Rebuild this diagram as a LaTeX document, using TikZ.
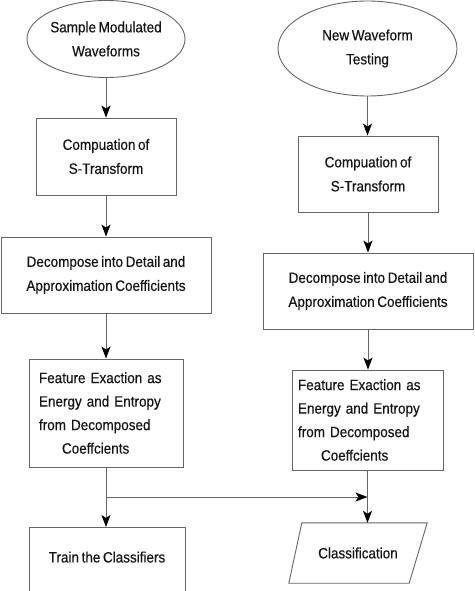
\documentclass[tikz,border=0pt]{standalone}
\usepackage{fontspec}
\setmainfont{Liberation Sans}[FakeStretch=0.9,FakeBold=0.4,WordSpace=0.7]
\usetikzlibrary{shapes.geometric,arrows.meta}
\definecolor{edge}{HTML}{656565}
\definecolor{ink}{HTML}{141414}
\begin{document}
\begin{tikzpicture}[x=1pt,y=-1pt,
  txt/.style={text=ink, font=\fontsize{15pt}{24pt}\selectfont},
  box/.style={txt, draw=edge, line width=0.9pt, inner sep=0pt, align=center},
  feat/.style={box, align=left, font=\fontsize{15pt}{23.5pt}\selectfont},
  oval/.style={txt, ellipse, draw=edge, line width=0.9pt, inner sep=0pt, align=center},
  para/.style={txt, inner sep=0pt},
  link/.style={draw=edge, line width=0.9pt},
  flow/.style={link, -{Stealth[length=12pt,width=9pt,inset=3pt,color=black]}}
]
\useasboundingbox (0,0) rectangle (474,591);

% left column
\node[oval, minimum width=158pt, minimum height=77pt] (le) at (106,39) {Sample Modulated\\Waveforms};
\node[box, minimum width=140pt, minimum height=77pt] (l1) at (106,156.5) {Compuation of\\S-Transform};
\node[box, minimum width=210pt, minimum height=76pt] (l2) at (106,275) {Decompose into Detail and\\Approximation Coefficients};
\node[feat, minimum width=154pt, minimum height=108pt, text width=134pt] (l3) at (106,413) {Feature Exaction as\\Energy and Entropy\\from Decomposed\\\hspace*{23pt}Coeffcients};
\node[box, anchor=north, minimum width=156pt, text height=35pt, text depth=45pt] (tr) at (107,527) {Train the Classifiers};

% right column
\node[oval, minimum width=179pt, minimum height=95pt] (re) at (367.5,48.5) {New Waveform\\Testing};
\node[box, minimum width=140pt, minimum height=76pt] (r1) at (368,174) {Compuation of\\S-Transform};
\node[box, minimum width=210pt, minimum height=76pt] (r2) at (368,291) {Decompose into Detail and\\Approximation Coefficients};
\node[feat, minimum width=151pt, minimum height=100pt, text width=139pt] (r3) at (367.5,420) {Feature Exaction as\\Energy and Entropy\\from Decomposed\\\hspace*{23pt}Coeffcients};
\node[para, minimum width=138pt, minimum height=60pt] (cl) at (358,553) {Classification};
\draw[link] (cl.south west) -- ([xshift=13pt]cl.north west) -- (cl.north east)
  -- ([xshift=-18pt]cl.south east) -- cycle;

% connectors
\draw[flow] (le.south) -- (le.south |- l1.north);
\draw[flow] (l1.south) -- (l1.south |- l2.north);
\draw[flow] (l1.south |- l2.south) -- (l1.south |- l3.north);
\coordinate (j) at (106,497);
\draw[link] (l3.south) -- (j);
\draw[flow] (j) -- (j |- tr.north);
\draw[flow] (j) -- (j -| r3.south);

\draw[flow] (re.south) -- (re.south |- r1.north);
\draw[flow] (r1.south) -- (r1.south |- r2.north);
\draw[flow] (r1.south |- r2.south) -- (r1.south |- r3.north);
\draw[flow] (r3.south) -- (r3.south |- cl.north);
\end{tikzpicture}
\end{document}
